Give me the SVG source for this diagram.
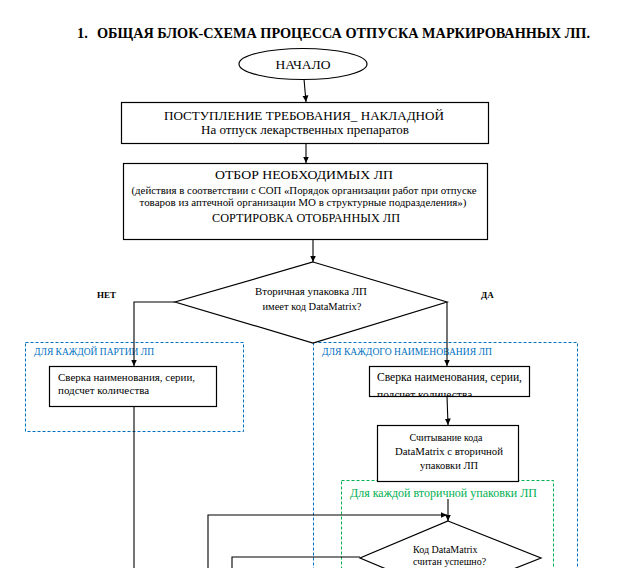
<svg xmlns="http://www.w3.org/2000/svg" width="627" height="568" viewBox="0 0 627 568" font-family="'Liberation Serif', 'Times New Roman', serif">
<style>
text{font-family:'Liberation Serif','Times New Roman',serif;fill:#000}
.box{fill:#fff;stroke:#000;stroke-width:1.2}
.ln{fill:none;stroke:#000;stroke-width:1.1}
.blue{fill:none;stroke:#0070C0;stroke-width:1;stroke-dasharray:3 2}
.green{fill:none;stroke:#00B050;stroke-width:1;stroke-dasharray:3 2}
.bl{fill:#0070C0;font-size:10px}
.c{text-anchor:middle}
</style>
<defs>
<marker id="ah" markerUnits="userSpaceOnUse" markerWidth="7" markerHeight="7" refX="6.5" refY="3.5" orient="auto">
<path d="M0,0.5 L6.5,3.5 L0,6.5 z" fill="#000"/>
</marker>
<clipPath id="clipR"><rect x="369" y="366" width="160" height="30"/></clipPath>
</defs>

<g id="title">
<text x="77" y="38" font-weight="bold" font-size="14.5">1.</text>
<text x="97" y="38" font-weight="bold" font-size="14.5" textLength="493" lengthAdjust="spacingAndGlyphs">ОБЩАЯ БЛОК-СХЕМА ПРОЦЕССА ОТПУСКА МАРКИРОВАННЫХ ЛП.</text>
</g>

<g id="groups">
<rect class="blue" x="25.5" y="342.5" width="218" height="89"/>
<text class="bl" x="34" y="355" textLength="120" lengthAdjust="spacingAndGlyphs">ДЛЯ КАЖДОЙ ПАРТИИ ЛП</text>
<rect class="blue" x="313.5" y="342.5" width="264" height="240"/>
<text class="bl" x="322" y="355" textLength="170" lengthAdjust="spacingAndGlyphs">ДЛЯ КАЖДОГО НАИМЕНОВАНИЯ ЛП</text>
<rect class="green" x="341.5" y="480.5" width="212" height="100"/>
<text x="350" y="497" font-size="12.5" style="fill:#00B050" textLength="187" lengthAdjust="spacingAndGlyphs">Для каждой вторичной упаковки ЛП</text>
</g>

<g id="connectors">
<line class="ln" x1="304" y1="79" x2="306" y2="102" marker-end="url(#ah)"/>
<line class="ln" x1="306" y1="143" x2="306" y2="163" marker-end="url(#ah)"/>
<line class="ln" x1="313" y1="240" x2="313" y2="262" marker-end="url(#ah)"/>
<polyline class="ln" points="175,302 134,302 134,366" marker-end="url(#ah)"/>
<line class="ln" x1="447" y1="302" x2="447" y2="366" marker-end="url(#ah)"/>
<line class="ln" x1="134" y1="406" x2="134" y2="570"/>
<line class="ln" x1="447" y1="396" x2="448" y2="425" marker-end="url(#ah)"/>
<line class="ln" x1="448" y1="499" x2="448" y2="521" marker-end="url(#ah)"/>
<polyline class="ln" points="208,570 208,515 447,515" marker-end="url(#ah)"/>
<polyline class="ln" points="360,557 232,557 232,570"/>
</g>

<g id="start">
<ellipse class="box" cx="303" cy="64" rx="64" ry="15.5"/>
<text class="c" x="303" y="69" font-size="12.5" textLength="55" lengthAdjust="spacingAndGlyphs">НАЧАЛО</text>
</g>

<g id="request">
<rect class="box" x="121.5" y="102.5" width="367" height="41"/>
<text class="c" x="304" y="120" font-size="13" textLength="280" lengthAdjust="spacingAndGlyphs">ПОСТУПЛЕНИЕ ТРЕБОВАНИЯ_ НАКЛАДНОЙ</text>
<text class="c" x="305" y="134" font-size="12" textLength="208" lengthAdjust="spacingAndGlyphs">На отпуск лекарственных препаратов</text>
</g>

<g id="selection">
<rect class="box" x="123.5" y="163.5" width="364" height="76"/>
<text class="c" x="304" y="179" font-size="13" textLength="178" lengthAdjust="spacingAndGlyphs">ОТБОР НЕОБХОДИМЫХ ЛП</text>
<text class="c" x="304" y="194" font-size="9.5" textLength="345" lengthAdjust="spacingAndGlyphs">(действия в соответствии с СОП «Порядок организации работ при отпуске</text>
<text class="c" x="303" y="206" font-size="9.5" textLength="327" lengthAdjust="spacingAndGlyphs">товаров из аптечной организации МО в структурные подразделения»)</text>
<text class="c" x="306" y="222" font-size="13" textLength="188" lengthAdjust="spacingAndGlyphs">СОРТИРОВКА ОТОБРАННЫХ ЛП</text>
</g>

<g id="decision1">
<polygon class="box" points="313,262 447,302 313,343 175,302"/>
<text class="c" x="311" y="295" font-size="10.5" textLength="112" lengthAdjust="spacingAndGlyphs">Вторичная упаковка ЛП</text>
<text class="c" x="312" y="310" font-size="10.5" textLength="99" lengthAdjust="spacingAndGlyphs">имеет код DataMatrix?</text>
<text x="97" y="298" font-size="9" font-weight="bold">НЕТ</text>
<text x="481" y="298" font-size="9" font-weight="bold">ДА</text>
</g>

<g id="check-batch">
<rect class="box" x="49.5" y="366.5" width="167" height="40"/>
<text x="58" y="381" font-size="11" textLength="137" lengthAdjust="spacingAndGlyphs">Сверка наименования, серии,</text>
<text x="58" y="394" font-size="11">подсчет количества</text>
</g>

<g id="check-name">
<rect class="box" x="369.5" y="366.5" width="160" height="30"/>
<g clip-path="url(#clipR)">
<text x="377" y="381" font-size="11.5" textLength="145" lengthAdjust="spacingAndGlyphs">Сверка наименования, серии,</text>
<text x="377" y="398.5" font-size="11.5">подсчет количества</text>
</g>
</g>

<g id="scan">
<rect class="box" x="377.5" y="425.5" width="141" height="56"/>
<text class="c" x="446" y="441" font-size="11" textLength="73" lengthAdjust="spacingAndGlyphs">Считывание кода</text>
<text class="c" x="449" y="455" font-size="11" textLength="108" lengthAdjust="spacingAndGlyphs">DataMatrix с вторичной</text>
<text class="c" x="449" y="469" font-size="11" textLength="58" lengthAdjust="spacingAndGlyphs">упаковки ЛП</text>
</g>

<g id="decision2">
<polygon class="box" points="448,521 541,558 448,595 360,558"/>
<text x="413" y="553" font-size="10">Код DataMatrix</text>
<text x="413" y="565" font-size="10">считан успешно?</text>
</g>
</svg>
